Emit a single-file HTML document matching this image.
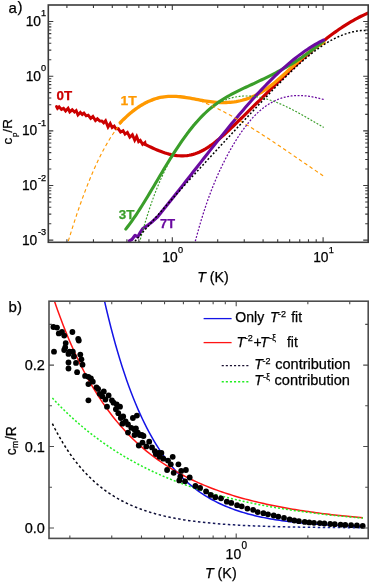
<!DOCTYPE html><html><head><meta charset="utf-8"><style>html,body{margin:0;padding:0;background:#fff;overflow:hidden}svg{display:block;will-change:transform}text{stroke:#000;stroke-width:0.25px}</style></head><body><svg width="371" height="583" viewBox="0 0 371 583">
<rect width="371" height="583" fill="#fff"/>
<defs><clipPath id="ca"><rect x="48.3" y="5" width="319.9" height="237.3"/></clipPath>
<clipPath id="cb"><rect x="49" y="301.2" width="319.2" height="237.2"/></clipPath></defs>
<g clip-path="url(#ca)" fill="none" stroke-linecap="round" stroke-linejoin="round">
<path d="M56.5,106.5 L57.5,108.33 L59.12,106.88 L61.44,109.39 L63.53,108.34 L65.62,110.97 L68.07,108.28 L69.78,111.93 L72.23,109.81 L74.47,112.02 L76.18,110.55 L77.94,114.95 L80.36,112.47 L82.28,114.6 L83.96,113.17 L86.16,115.87 L88.24,115.14 L90.69,118.46 L92.89,116.54 L95.44,120.58 L97.38,118.83 L99.77,121.13 L101.74,121.05 L103.66,122.88 L105.55,120.78 L108.05,127.03 L110.22,123.53 L112.18,127.59 L114.21,126.11 L115.88,128.81 L118.25,128.63 L120.55,131.99 L123.08,130.65 L125.04,134.13 L127.4,132.33 L129.82,137.05 L132.37,134.79 L134.71,140.24 L136.65,136.54 L138.61,141.64 L140.29,140.41 L142.65,144.33 L144.87,142.64 L145.1,144.3" stroke="#cc0000" stroke-width="2.9" stroke-linejoin="miter" stroke-miterlimit="3"/>
<path d="M145.1,144.36 L147.1,145.37 L149.1,146.35 L151.1,147.31 L153.1,148.24 L155.1,149.13 L157.1,149.98 L159.1,150.8 L161.1,151.56 L163.1,152.28 L165.1,152.94 L167.1,153.55 L169.1,154.09 L171.1,154.57 L173.1,154.98 L175.1,155.31 L177.1,155.57 L179.1,155.75 L181.1,155.84 L183.1,155.84 L185.1,155.76 L187.1,155.57 L189.1,155.28 L191.1,154.89 L193.1,154.39 L195.1,153.78 L197.1,153.05 L199.1,152.22 L201.1,151.28 L203.1,150.24 L205.1,149.1 L207.1,147.88 L209.1,146.57 L211.1,145.18 L213.1,143.72 L215.1,142.19 L217.1,140.6 L219.1,138.95 L221.1,137.25 L223.1,135.5 L225.1,133.71 L227.1,131.89 L229.1,130.03 L231.1,128.15 L233.1,126.25 L235.1,124.33 L237.1,122.41 L239.1,120.47 L241.1,118.52 L243.1,116.57 L245.1,114.61 L247.1,112.64 L249.1,110.67 L251.1,108.69 L253.1,106.71 L255.1,104.73 L257.1,102.75 L259.1,100.76 L261.1,98.77 L263.1,96.78 L265.1,94.8 L267.1,92.81 L269.1,90.83 L271.1,88.85 L273.1,86.88 L275.1,84.91 L277.1,82.95 L279.1,80.99 L281.1,79.04 L283.1,77.1 L285.1,75.17 L287.1,73.25 L289.1,71.33 L291.1,69.43 L293.1,67.54 L295.1,65.67 L297.1,63.81 L299.1,61.96 L301.1,60.13 L303.1,58.31 L305.1,56.52 L307.1,54.74 L309.1,52.97 L311.1,51.23 L313.1,49.51 L315.1,47.81 L317.1,46.13 L319.1,44.47 L321.1,42.84 L323.1,41.23 L325.1,39.64 L327.1,38.08 L329.1,36.55 L331.1,35.04 L333.1,33.57 L335.1,32.12 L337.1,30.7 L339.1,29.31 L341.1,27.96 L343.1,26.63 L345.1,25.34 L347.1,24.08 L349.1,22.86 L351.1,21.67 L353.1,20.52 L355.1,19.41 L357.1,18.33 L359.1,17.29 L361.1,16.29 L363.1,15.33 L365.1,14.41 L367.1,13.54 L369,12.74" stroke="#cc0000" stroke-width="3.2"/>
<path d="M120.2,122.72 L122.2,120.68 L124.2,118.71 L126.2,116.83 L128.2,115.02 L130.2,113.31 L132.2,111.67 L134.2,110.11 L136.2,108.64 L138.2,107.25 L140.2,105.95 L142.2,104.72 L144.2,103.58 L146.2,102.53 L148.2,101.55 L150.2,100.66 L152.2,99.86 L154.2,99.13 L156.2,98.49 L158.2,97.94 L160.2,97.47 L162.2,97.08 L164.2,96.77 L166.2,96.55 L168.2,96.4 L170.2,96.31 L172.2,96.29 L174.2,96.34 L176.2,96.43 L178.2,96.58 L180.2,96.76 L182.2,96.99 L184.2,97.26 L186.2,97.55 L188.2,97.87 L190.2,98.21 L192.2,98.57 L194.2,98.94 L196.2,99.31 L198.2,99.68 L200.2,100.05 L202.2,100.41 L204.2,100.76 L206.2,101.08 L208.2,101.39 L210.2,101.67 L212.2,101.91 L214.2,102.12 L216.2,102.29 L218.2,102.42 L220.2,102.51 L222.2,102.55 L224.2,102.55 L226.2,102.51 L228.2,102.41 L230.2,102.27 L232.2,102.07 L234.2,101.83 L236.2,101.52 L238.2,101.16 L240.2,100.74 L242.2,100.26 L244.2,99.71 L246.2,99.1 L248.2,98.43 L250.2,97.69 L252.2,96.88 L254.2,95.99 L256.2,95.03 L258.2,94 L260.2,92.89 L262.2,91.71 L264.2,90.44 L266.2,89.09 L268.2,87.66 L270.2,86.16 L272.2,84.6 L274.2,82.97 L276.2,81.29 L278.2,79.57 L280.2,77.81 L282.2,76.02 L284.2,74.2 L286.2,72.36 L288.2,70.51 L290.2,68.65 L292.2,66.8 L294.2,64.95 L296.2,63.12 L298.2,61.3 L300.2,59.52 L302.2,57.77 L304.2,56.06 L306.2,54.4 L308.2,52.79 L310.2,51.24 L312.2,49.76 L314.2,48.36 L316.2,47.03 L318.2,45.8 L320.2,44.66 L322.2,43.61 L324,42.77" stroke="#ff9900" stroke-width="3.3"/>
<path d="M125.8,229.11 L127.8,226.54 L129.8,223.87 L131.8,221.09 L133.8,218.23 L135.8,215.28 L137.8,212.25 L139.8,209.16 L141.8,206 L143.8,202.79 L145.8,199.53 L147.8,196.23 L149.8,192.9 L151.8,189.55 L153.8,186.18 L155.8,182.8 L157.8,179.42 L159.8,176.04 L161.8,172.68 L163.8,169.33 L165.8,166.02 L167.8,162.74 L169.8,159.5 L171.8,156.31 L173.8,153.17 L175.8,150.08 L177.8,147.05 L179.8,144.09 L181.8,141.18 L183.8,138.35 L185.8,135.58 L187.8,132.89 L189.8,130.28 L191.8,127.74 L193.8,125.29 L195.8,122.93 L197.8,120.66 L199.8,118.48 L201.8,116.39 L203.8,114.4 L205.8,112.5 L207.8,110.68 L209.8,108.95 L211.8,107.29 L213.8,105.71 L215.8,104.2 L217.8,102.75 L219.8,101.36 L221.8,100.04 L223.8,98.77 L225.8,97.54 L227.8,96.37 L229.8,95.24 L231.8,94.14 L233.8,93.08 L235.8,92.05 L237.8,91.05 L239.8,90.07 L241.8,89.11 L243.8,88.17 L245.8,87.24 L247.8,86.31 L249.8,85.39 L251.8,84.47 L253.8,83.54 L255.8,82.61 L257.8,81.67 L259.8,80.72 L261.8,79.77 L263.8,78.81 L265.8,77.84 L267.8,76.85 L269.8,75.86 L271.8,74.85 L273.8,73.82 L275.8,72.79 L277.8,71.73 L279.8,70.66 L281.8,69.57 L283.8,68.46 L285.8,67.33 L287.8,66.17 L289.8,65 L291.8,63.8 L293.8,62.58 L295.8,61.33 L297.8,60.06 L299.8,58.76 L301.8,57.43 L303.8,56.07 L305.8,54.68 L307.8,53.25 L309.8,51.8 L311.8,50.31 L313.8,48.79 L315.8,47.23 L317.8,45.63 L319.8,44 L321.8,42.33 L323.6,40.79" stroke="#3a9e2a" stroke-width="3.1"/>
<path d="M129.3,240.8 L131.9,239.5 L135.1,235.3 L137.7,236.9 L140.3,232.3 L142.9,228.5 L146.8,225.9 L151.3,222.6 L157.3,217 L157.3,217.19 L159.3,214.74 L161.3,212.28 L163.3,209.81 L165.3,207.32 L167.3,204.83 L169.3,202.32 L171.3,199.81 L173.3,197.29 L175.3,194.76 L177.3,192.23 L179.3,189.69 L181.3,187.14 L183.3,184.59 L185.3,182.04 L187.3,179.48 L189.3,176.93 L191.3,174.37 L193.3,171.81 L195.3,169.25 L197.3,166.69 L199.3,164.14 L201.3,161.59 L203.3,159.04 L205.3,156.49 L207.3,153.95 L209.3,151.41 L211.3,148.89 L213.3,146.36 L215.3,143.85 L217.3,141.34 L219.3,138.85 L221.3,136.36 L223.3,133.89 L225.3,131.42 L227.3,128.97 L229.3,126.53 L231.3,124.11 L233.3,121.7 L235.3,119.3 L237.3,116.92 L239.3,114.56 L241.3,112.21 L243.3,109.89 L245.3,107.58 L247.3,105.29 L249.3,103.02 L251.3,100.78 L253.3,98.55 L255.3,96.35 L257.3,94.17 L259.3,92.02 L261.3,89.89 L263.3,87.78 L265.3,85.71 L267.3,83.66 L269.3,81.63 L271.3,79.64 L273.3,77.67 L275.3,75.74 L277.3,73.84 L279.3,71.96 L281.3,70.12 L283.3,68.31 L285.3,66.54 L287.3,64.8 L289.3,63.09 L291.3,61.42 L293.3,59.79 L295.3,58.19 L297.3,56.64 L299.3,55.12 L301.3,53.64 L303.3,52.2 L305.3,50.8 L307.3,49.44 L309.3,48.13 L311.3,46.85 L313.3,45.62 L315.3,44.44 L317.3,43.3 L319.3,42.21 L321.3,41.16 L323.3,40.16 L323.6,40.02" stroke="#6a0aa0" stroke-width="3.1"/>
<path d="M68.3,241.12 L70.3,234.55 L72.3,228.16 L74.3,221.92 L76.3,215.86 L78.3,209.96 L80.3,204.23 L82.3,198.66 L84.3,193.26 L86.3,188.03 L88.3,182.96 L90.3,178.06 L92.3,173.32 L94.3,168.75 L96.3,164.34 L98.3,160.09 L100.3,156.01 L102.3,152.09 L104.3,148.34 L106.3,144.75 L108.3,141.32 L110.3,138.06 L112.3,134.95 L114.3,132.02 L116.3,129.24 L118.3,126.62 L120.3,124.15 L122.3,121.83 L124.3,119.65 L126.3,117.6 L128.3,115.68 L130.3,113.89 L132.3,112.21 L134.3,110.65 L136.3,109.19 L138.3,107.84 L140.3,106.58 L142.3,105.41 L144.3,104.32 L146.3,103.32 L148.3,102.39 L150.3,101.53 L152.3,100.74 L154.3,100.02 L156.3,99.37 L158.3,98.78 L160.3,98.26 L162.3,97.8 L164.3,97.41 L166.3,97.09 L168.3,96.83 L170.3,96.63 L172.3,96.5 L174.3,96.44 L176.3,96.43 L178.3,96.49 L180.3,96.61 L182.3,96.79 L184.3,97.03 L186.3,97.33 L188.3,97.69 L190.3,98.11 L192.3,98.59 L194.3,99.13 L196.3,99.71 L198.3,100.35 L200.3,101.04 L202.3,101.77 L204.3,102.55 L206.3,103.36 L208.3,104.22 L210.3,105.1 L212.3,106.02 L214.3,106.97 L216.3,107.95 L218.3,108.95 L220.3,109.97 L222.3,111.01 L224.3,112.07 L226.3,113.14 L228.3,114.23 L230.3,115.33 L232.3,116.45 L234.3,117.58 L236.3,118.72 L238.3,119.88 L240.3,121.05 L242.3,122.23 L244.3,123.42 L246.3,124.63 L248.3,125.85 L250.3,127.08 L252.3,128.32 L254.3,129.57 L256.3,130.83 L258.3,132.1 L260.3,133.38 L262.3,134.67 L264.3,135.97 L266.3,137.27 L268.3,138.58 L270.3,139.9 L272.3,141.23 L274.3,142.56 L276.3,143.89 L278.3,145.23 L280.3,146.58 L282.3,147.93 L284.3,149.28 L286.3,150.64 L288.3,152 L290.3,153.36 L292.3,154.73 L294.3,156.1 L296.3,157.46 L298.3,158.83 L300.3,160.2 L302.3,161.57 L304.3,162.94 L306.3,164.31 L308.3,165.67 L310.3,167.04 L312.3,168.4 L314.3,169.76 L316.3,171.11 L318.3,172.47 L320.3,173.81 L322.3,175.16 L323.1,175.7" stroke="#ff9900" stroke-width="1.15" stroke-dasharray="3.6 2.8" stroke-linecap="butt"/>
<path d="M139.4,242.86 L141.4,235.54 L143.4,228.49 L145.4,221.73 L147.4,215.24 L149.4,209.04 L151.4,203.14 L153.4,197.54 L155.4,192.23 L157.4,187.2 L159.4,182.43 L161.4,177.88 L163.4,173.55 L165.4,169.39 L167.4,165.4 L169.4,161.54 L171.4,157.81 L173.4,154.2 L175.4,150.73 L177.4,147.37 L179.4,144.13 L181.4,141.02 L183.4,138.03 L185.4,135.15 L187.4,132.38 L189.4,129.74 L191.4,127.2 L193.4,124.78 L195.4,122.46 L197.4,120.26 L199.4,118.16 L201.4,116.17 L203.4,114.28 L205.4,112.49 L207.4,110.81 L209.4,109.22 L211.4,107.74 L213.4,106.35 L215.4,105.05 L217.4,103.85 L219.4,102.74 L221.4,101.72 L223.4,100.79 L225.4,99.95 L227.4,99.2 L229.4,98.52 L231.4,97.93 L233.4,97.42 L235.4,96.99 L237.4,96.64 L239.4,96.36 L241.4,96.15 L243.4,96.01 L245.4,95.95 L247.4,95.95 L249.4,96.01 L251.4,96.14 L253.4,96.33 L255.4,96.58 L257.4,96.88 L259.4,97.25 L261.4,97.66 L263.4,98.13 L265.4,98.65 L267.4,99.22 L269.4,99.84 L271.4,100.5 L273.4,101.2 L275.4,101.94 L277.4,102.73 L279.4,103.55 L281.4,104.4 L283.4,105.29 L285.4,106.21 L287.4,107.16 L289.4,108.14 L291.4,109.15 L293.4,110.18 L295.4,111.23 L297.4,112.3 L299.4,113.39 L301.4,114.5 L303.4,115.63 L305.4,116.76 L307.4,117.91 L309.4,119.07 L311.4,120.23 L313.4,121.4 L315.4,122.58 L317.4,123.75 L319.4,124.93 L321.4,126.1 L323.4,127.27 L323.7,127.45" stroke="#3a9e2a" stroke-width="1.15" stroke-dasharray="1.9 1.6" stroke-linecap="butt"/>
<path d="M195.3,241.27 L197.3,233.8 L199.3,226.69 L201.3,219.92 L203.3,213.47 L205.3,207.32 L207.3,201.46 L209.3,195.88 L211.3,190.56 L213.3,185.48 L215.3,180.62 L217.3,175.98 L219.3,171.54 L221.3,167.27 L223.3,163.18 L225.3,159.23 L227.3,155.41 L229.3,151.72 L231.3,148.16 L233.3,144.72 L235.3,141.41 L237.3,138.22 L239.3,135.16 L241.3,132.22 L243.3,129.4 L245.3,126.71 L247.3,124.14 L249.3,121.69 L251.3,119.37 L253.3,117.16 L255.3,115.08 L257.3,113.12 L259.3,111.28 L261.3,109.56 L263.3,107.95 L265.3,106.45 L267.3,105.07 L269.3,103.79 L271.3,102.61 L273.3,101.54 L275.3,100.56 L277.3,99.68 L279.3,98.89 L281.3,98.19 L283.3,97.58 L285.3,97.06 L287.3,96.61 L289.3,96.25 L291.3,95.96 L293.3,95.74 L295.3,95.6 L297.3,95.52 L299.3,95.51 L301.3,95.56 L303.3,95.67 L305.3,95.83 L307.3,96.05 L309.3,96.32 L311.3,96.65 L313.3,97.01 L315.3,97.42 L317.3,97.87 L319.3,98.36 L321.3,98.88 L323.3,99.43 L323.7,99.55" stroke="#6a0aa0" stroke-width="1.25" stroke-dasharray="1.9 1.6" stroke-linecap="butt"/>
<path d="M135,241.26 L137,238.96 L139,236.65 L141,234.35 L143,232.05 L145,229.76 L147,227.47 L149,225.19 L151,222.91 L153,220.63 L155,218.36 L157,216.09 L159,213.83 L161,211.57 L163,209.31 L165,207.06 L167,204.81 L169,202.56 L171,200.32 L173,198.08 L175,195.84 L177,193.61 L179,191.38 L181,189.15 L183,186.93 L185,184.71 L187,182.5 L189,180.28 L191,178.08 L193,175.87 L195,173.67 L197,171.47 L199,169.27 L201,167.08 L203,164.89 L205,162.7 L207,160.51 L209,158.33 L211,156.15 L213,153.98 L215,151.8 L217,149.63 L219,147.46 L221,145.3 L223,143.13 L225,140.97 L227,138.82 L229,136.66 L231,134.51 L233,132.36 L235,130.21 L237,128.06 L239,125.92 L241,123.78 L243,121.64 L245,119.5 L247,117.37 L249,115.24 L251,113.11 L253,110.98 L255,108.85 L257,106.73 L259,104.6 L261,102.48 L263,100.37 L265,98.25 L267,96.14 L269,94.03 L271,91.93 L273,89.84 L275,87.76 L277,85.69 L279,83.64 L281,81.6 L283,79.58 L285,77.58 L287,75.6 L289,73.64 L291,71.7 L293,69.79 L295,67.9 L297,66.05 L299,64.22 L301,62.43 L303,60.67 L305,58.94 L307,57.25 L309,55.6 L311,53.99 L313,52.42 L315,50.89 L317,49.41 L319,47.97 L321,46.58 L323,45.25 L325,43.96 L327,42.72 L329,41.54 L331,40.42 L333,39.34 L335,38.33 L337,37.37 L339,36.47 L341,35.63 L343,34.84 L345,34.12 L347,33.46 L349,32.86 L351,32.32 L353,31.85 L355,31.45 L357,31.1 L359,30.83 L361,30.62 L363,30.48 L365,30.41 L367,30.41 L369,30.48" stroke="#000" stroke-width="1.5" stroke-dasharray="1.9 2" stroke-linecap="butt"/>
</g>
<path d="M66.9,242.3 v-3 M66.9,5 v3 M93.45,242.3 v-3 M93.45,5 v3 M112.29,242.3 v-3 M112.29,5 v3 M126.9,242.3 v-3 M126.9,5 v3 M138.85,242.3 v-3 M138.85,5 v3 M148.94,242.3 v-3 M148.94,5 v3 M157.69,242.3 v-3 M157.69,5 v3 M165.4,242.3 v-3 M165.4,5 v3 M172.3,242.3 v-5 M172.3,5 v5 M217.7,242.3 v-3 M217.7,5 v3 M244.25,242.3 v-3 M244.25,5 v3 M263.09,242.3 v-3 M263.09,5 v3 M277.7,242.3 v-3 M277.7,5 v3 M289.65,242.3 v-3 M289.65,5 v3 M299.74,242.3 v-3 M299.74,5 v3 M308.49,242.3 v-3 M308.49,5 v3 M316.2,242.3 v-3 M316.2,5 v3 M323.1,242.3 v-5 M323.1,5 v5 M48.3,240.15 h5 M368.2,240.15 h-5 M48.3,223.7 h3 M368.2,223.7 h-3 M48.3,214.08 h3 M368.2,214.08 h-3 M48.3,207.25 h3 M368.2,207.25 h-3 M48.3,201.95 h3 M368.2,201.95 h-3 M48.3,197.62 h3 M368.2,197.62 h-3 M48.3,193.97 h3 M368.2,193.97 h-3 M48.3,190.8 h3 M368.2,190.8 h-3 M48.3,188 h3 M368.2,188 h-3 M48.3,185.5 h5 M368.2,185.5 h-5 M48.3,169.05 h3 M368.2,169.05 h-3 M48.3,159.43 h3 M368.2,159.43 h-3 M48.3,152.6 h3 M368.2,152.6 h-3 M48.3,147.3 h3 M368.2,147.3 h-3 M48.3,142.97 h3 M368.2,142.97 h-3 M48.3,139.32 h3 M368.2,139.32 h-3 M48.3,136.15 h3 M368.2,136.15 h-3 M48.3,133.35 h3 M368.2,133.35 h-3 M48.3,130.85 h5 M368.2,130.85 h-5 M48.3,114.4 h3 M368.2,114.4 h-3 M48.3,104.78 h3 M368.2,104.78 h-3 M48.3,97.95 h3 M368.2,97.95 h-3 M48.3,92.65 h3 M368.2,92.65 h-3 M48.3,88.32 h3 M368.2,88.32 h-3 M48.3,84.67 h3 M368.2,84.67 h-3 M48.3,81.5 h3 M368.2,81.5 h-3 M48.3,78.7 h3 M368.2,78.7 h-3 M48.3,76.2 h5 M368.2,76.2 h-5 M48.3,59.75 h3 M368.2,59.75 h-3 M48.3,50.13 h3 M368.2,50.13 h-3 M48.3,43.3 h3 M368.2,43.3 h-3 M48.3,38 h3 M368.2,38 h-3 M48.3,33.67 h3 M368.2,33.67 h-3 M48.3,30.02 h3 M368.2,30.02 h-3 M48.3,26.85 h3 M368.2,26.85 h-3 M48.3,24.05 h3 M368.2,24.05 h-3 M48.3,21.55 h5 M368.2,21.55 h-5" stroke="#3a3a3a" stroke-width="1.1" fill="none"/>
<rect x="48.3" y="5" width="319.9" height="237.3" fill="none" stroke="#3a3a3a" stroke-width="1.6"/>
<linearGradient id="navy" gradientUnits="userSpaceOnUse" x1="50" y1="0" x2="365" y2="0"><stop offset="0" stop-color="#000"/><stop offset="0.45" stop-color="#12124a"/><stop offset="1" stop-color="#2233b0"/></linearGradient>
<g clip-path="url(#cb)" fill="none">
<path d="M92.91,243.9 L95.16,256.01 L97.41,267.6 L99.66,278.7 L101.91,289.32 L104.16,299.49 L106.41,309.23 L108.66,318.55 L110.92,327.48 L113.17,336.02 L115.42,344.21 L117.67,352.04 L119.92,359.54 L122.17,366.72 L124.42,373.59 L126.67,380.17 L128.92,386.47 L131.17,392.5 L133.42,398.28 L135.67,403.8 L137.92,409.1 L140.17,414.16 L142.43,419.01 L144.68,423.66 L146.93,428.11 L149.18,432.36 L151.43,436.44 L153.68,440.34 L155.93,444.08 L158.18,447.65 L160.43,451.08 L162.68,454.35 L164.93,457.49 L167.18,460.5 L169.43,463.37 L171.68,466.13 L173.94,468.76 L176.19,471.29 L178.44,473.71 L180.69,476.02 L182.94,478.23 L185.19,480.36 L187.44,482.39 L189.69,484.33 L191.94,486.19 L194.19,487.97 L196.44,489.68 L198.69,491.31 L200.94,492.88 L203.19,494.37 L205.45,495.8 L207.7,497.18 L209.95,498.49 L212.2,499.75 L214.45,500.95 L216.7,502.1 L218.95,503.21 L221.2,504.26 L223.45,505.28 L225.7,506.24 L227.95,507.17 L230.2,508.06 L232.45,508.91 L234.7,509.72 L236.96,510.5 L239.21,511.25 L241.46,511.96 L243.71,512.64 L245.96,513.3 L248.21,513.93 L250.46,514.53 L252.71,515.1 L254.96,515.65 L257.21,516.18 L259.46,516.68 L261.71,517.16 L263.96,517.62 L266.21,518.07 L268.47,518.49 L270.72,518.89 L272.97,519.28 L275.22,519.65 L277.47,520.01 L279.72,520.35 L281.97,520.68 L284.22,520.99 L286.47,521.29 L288.72,521.57 L290.97,521.85 L293.22,522.11 L295.47,522.36 L297.72,522.6 L299.98,522.83 L302.23,523.05 L304.48,523.26 L306.73,523.46 L308.98,523.66 L311.23,523.84 L313.48,524.02 L315.73,524.19 L317.98,524.35 L320.23,524.51 L322.48,524.66 L324.73,524.8 L326.98,524.93 L329.23,525.07 L331.49,525.19 L333.74,525.31 L335.99,525.42 L338.24,525.53 L340.49,525.64 L342.74,525.74 L344.99,525.84 L347.24,525.93 L349.49,526.02 L351.74,526.1 L353.99,526.18 L356.24,526.26 L358.49,526.33 L360.74,526.41 L363,526.47" stroke="#1414e6" stroke-width="1.5"/>
<path d="M49.96,287.42 L52.57,295.49 L55.18,303.25 L57.79,310.7 L60.4,317.86 L63,324.75 L65.61,331.37 L68.22,337.74 L70.83,343.87 L73.44,349.77 L76.05,355.44 L78.66,360.91 L81.26,366.17 L83.87,371.23 L86.48,376.11 L89.09,380.81 L91.7,385.33 L94.31,389.7 L96.92,393.9 L99.52,397.96 L102.13,401.87 L104.74,405.64 L107.35,409.28 L109.96,412.79 L112.57,416.18 L115.18,419.45 L117.79,422.61 L120.39,425.66 L123,428.61 L125.61,431.46 L128.22,434.21 L130.83,436.87 L133.44,439.44 L136.05,441.92 L138.65,444.33 L141.26,446.65 L143.87,448.9 L146.48,451.08 L149.09,453.18 L151.7,455.22 L154.31,457.19 L156.91,459.11 L159.52,460.96 L162.13,462.75 L164.74,464.49 L167.35,466.17 L169.96,467.81 L172.57,469.39 L175.17,470.92 L177.78,472.41 L180.39,473.86 L183,475.26 L185.61,476.62 L188.22,477.93 L190.83,479.21 L193.44,480.46 L196.04,481.66 L198.65,482.83 L201.26,483.97 L203.87,485.08 L206.48,486.15 L209.09,487.2 L211.7,488.21 L214.3,489.2 L216.91,490.15 L219.52,491.09 L222.13,491.99 L224.74,492.87 L227.35,493.73 L229.96,494.56 L232.56,495.37 L235.17,496.16 L237.78,496.93 L240.39,497.68 L243,498.41 L245.61,499.11 L248.22,499.8 L250.82,500.47 L253.43,501.13 L256.04,501.77 L258.65,502.39 L261.26,502.99 L263.87,503.58 L266.48,504.15 L269.09,504.71 L271.69,505.26 L274.3,505.79 L276.91,506.31 L279.52,506.81 L282.13,507.3 L284.74,507.78 L287.35,508.25 L289.95,508.7 L292.56,509.15 L295.17,509.58 L297.78,510.01 L300.39,510.42 L303,510.82 L305.61,511.21 L308.21,511.6 L310.82,511.97 L313.43,512.34 L316.04,512.69 L318.65,513.04 L321.26,513.38 L323.87,513.71 L326.47,514.03 L329.08,514.35 L331.69,514.66 L334.3,514.96 L336.91,515.25 L339.52,515.54 L342.13,515.82 L344.74,516.09 L347.34,516.36 L349.95,516.62 L352.56,516.87 L355.17,517.12 L357.78,517.37 L360.39,517.6 L363,517.84" stroke="#ff1414" stroke-width="1.5"/>
<path d="M52.38,398.09 L54.96,400.85 L57.55,403.55 L60.14,406.19 L62.73,408.78 L65.32,411.31 L67.91,413.79 L70.5,416.21 L73.08,418.59 L75.67,420.91 L78.26,423.18 L80.85,425.41 L83.44,427.59 L86.03,429.72 L88.61,431.81 L91.2,433.85 L93.79,435.85 L96.38,437.8 L98.97,439.72 L101.56,441.59 L104.15,443.43 L106.73,445.22 L109.32,446.98 L111.91,448.7 L114.5,450.39 L117.09,452.03 L119.68,453.65 L122.27,455.23 L124.85,456.77 L127.44,458.28 L130.03,459.76 L132.62,461.21 L135.21,462.63 L137.8,464.02 L140.38,465.38 L142.97,466.71 L145.56,468.01 L148.15,469.28 L150.74,470.53 L153.33,471.75 L155.92,472.94 L158.5,474.11 L161.09,475.26 L163.68,476.38 L166.27,477.47 L168.86,478.55 L171.45,479.6 L174.04,480.62 L176.62,481.63 L179.21,482.61 L181.8,483.58 L184.39,484.52 L186.98,485.44 L189.57,486.35 L192.15,487.23 L194.74,488.1 L197.33,488.94 L199.92,489.77 L202.51,490.59 L205.1,491.38 L207.69,492.16 L210.27,492.92 L212.86,493.66 L215.45,494.39 L218.04,495.11 L220.63,495.8 L223.22,496.49 L225.81,497.16 L228.39,497.81 L230.98,498.45 L233.57,499.08 L236.16,499.69 L238.75,500.3 L241.34,500.88 L243.92,501.46 L246.51,502.02 L249.1,502.57 L251.69,503.11 L254.28,503.64 L256.87,504.16 L259.46,504.67 L262.04,505.16 L264.63,505.65 L267.22,506.12 L269.81,506.59 L272.4,507.04 L274.99,507.49 L277.58,507.92 L280.16,508.35 L282.75,508.76 L285.34,509.17 L287.93,509.57 L290.52,509.96 L293.11,510.35 L295.69,510.72 L298.28,511.09 L300.87,511.45 L303.46,511.8 L306.05,512.14 L308.64,512.48 L311.23,512.81 L313.81,513.13 L316.4,513.45 L318.99,513.76 L321.58,514.06 L324.17,514.36 L326.76,514.65 L329.35,514.93 L331.93,515.21 L334.52,515.48 L337.11,515.74 L339.7,516 L342.29,516.26 L344.88,516.51 L347.46,516.75 L350.05,516.99 L352.64,517.22 L355.23,517.45 L357.82,517.68 L360.41,517.9 L363,518.11" stroke="#22ee22" stroke-width="1.5" stroke-dasharray="2 2"/>
<path d="M52.38,423.64 L54.96,428.74 L57.55,433.59 L60.14,438.2 L62.73,442.59 L65.32,446.76 L67.91,450.73 L70.5,454.51 L73.08,458.1 L75.67,461.51 L78.26,464.76 L80.85,467.85 L83.44,470.79 L86.03,473.58 L88.61,476.24 L91.2,478.77 L93.79,481.17 L96.38,483.46 L98.97,485.64 L101.56,487.71 L104.15,489.68 L106.73,491.55 L109.32,493.33 L111.91,495.02 L114.5,496.63 L117.09,498.17 L119.68,499.62 L122.27,501.01 L124.85,502.33 L127.44,503.58 L130.03,504.77 L132.62,505.91 L135.21,506.99 L137.8,508.02 L140.38,508.99 L142.97,509.92 L145.56,510.8 L148.15,511.64 L150.74,512.44 L153.33,513.2 L155.92,513.93 L158.5,514.61 L161.09,515.27 L163.68,515.89 L166.27,516.48 L168.86,517.04 L171.45,517.58 L174.04,518.09 L176.62,518.57 L179.21,519.03 L181.8,519.47 L184.39,519.89 L186.98,520.28 L189.57,520.66 L192.15,521.02 L194.74,521.36 L197.33,521.68 L199.92,521.99 L202.51,522.29 L205.1,522.57 L207.69,522.83 L210.27,523.08 L212.86,523.32 L215.45,523.55 L218.04,523.77 L220.63,523.98 L223.22,524.17 L225.81,524.36 L228.39,524.54 L230.98,524.71 L233.57,524.87 L236.16,525.02 L238.75,525.17 L241.34,525.3 L243.92,525.44 L246.51,525.56 L249.1,525.68 L251.69,525.79 L254.28,525.9 L256.87,526 L259.46,526.1 L262.04,526.19 L264.63,526.28 L267.22,526.37 L269.81,526.45 L272.4,526.52 L274.99,526.59 L277.58,526.66 L280.16,526.73 L282.75,526.79 L285.34,526.85 L287.93,526.91 L290.52,526.96 L293.11,527.01 L295.69,527.06 L298.28,527.1 L300.87,527.15 L303.46,527.19 L306.05,527.23 L308.64,527.27 L311.23,527.3 L313.81,527.34 L316.4,527.37 L318.99,527.4 L321.58,527.43 L324.17,527.46 L326.76,527.48 L329.35,527.51 L331.93,527.53 L334.52,527.56 L337.11,527.58 L339.7,527.6 L342.29,527.62 L344.88,527.64 L347.46,527.65 L350.05,527.67 L352.64,527.69 L355.23,527.7 L357.82,527.72 L360.41,527.73 L363,527.74" stroke="url(#navy)" stroke-width="1.5" stroke-dasharray="2.5 2.5"/>
</g>
<g fill="#000"><circle cx="53.4" cy="327" r="2.9"/><circle cx="57" cy="327.6" r="2.9"/><circle cx="58.8" cy="333.4" r="2.9"/><circle cx="62" cy="332" r="2.9"/><circle cx="64.2" cy="335.6" r="2.9"/><circle cx="72.4" cy="332" r="2.9"/><circle cx="78.2" cy="338.8" r="2.9"/><circle cx="78.8" cy="340.5" r="2.9"/><circle cx="54" cy="351.7" r="2.9"/><circle cx="65.7" cy="343.1" r="2.9"/><circle cx="65.2" cy="347.4" r="2.9"/><circle cx="64.2" cy="350" r="2.9"/><circle cx="69.6" cy="351.7" r="2.9"/><circle cx="72.8" cy="351.7" r="2.9"/><circle cx="68.5" cy="353.9" r="2.9"/><circle cx="80.3" cy="354.6" r="2.9"/><circle cx="73.9" cy="356.5" r="2.9"/><circle cx="81.4" cy="359.3" r="2.9"/><circle cx="68.5" cy="362.5" r="2.9"/><circle cx="76" cy="362.9" r="2.9"/><circle cx="82.5" cy="364.7" r="2.9"/><circle cx="68.5" cy="368.5" r="2.9"/><circle cx="77.1" cy="372.2" r="2.9"/><circle cx="85.1" cy="375.9" r="2.9"/><circle cx="88.4" cy="376.8" r="2.9"/><circle cx="90.9" cy="378.4" r="2.9"/><circle cx="88.4" cy="384.1" r="2.9"/><circle cx="92.8" cy="381.7" r="2.9"/><circle cx="96.5" cy="387.3" r="2.9"/><circle cx="98.1" cy="388.9" r="2.9"/><circle cx="103.8" cy="391.4" r="2.9"/><circle cx="99.7" cy="393.8" r="2.9"/><circle cx="102.2" cy="396.2" r="2.9"/><circle cx="108.6" cy="395.4" r="2.9"/><circle cx="105.4" cy="399.5" r="2.9"/><circle cx="88.4" cy="400.3" r="2.9"/><circle cx="111.9" cy="400.3" r="2.9"/><circle cx="113.5" cy="402.7" r="2.9"/><circle cx="116.7" cy="404.3" r="2.9"/><circle cx="120" cy="406.7" r="2.9"/><circle cx="107" cy="406.7" r="2.9"/><circle cx="115.9" cy="409.2" r="2.9"/><circle cx="118.3" cy="413.2" r="2.9"/><circle cx="123.2" cy="416.4" r="2.9"/><circle cx="132.9" cy="418" r="2.9"/><circle cx="136.9" cy="415.6" r="2.9"/><circle cx="120.8" cy="418" r="2.9"/><circle cx="125.6" cy="421.3" r="2.9"/><circle cx="122.4" cy="423.7" r="2.9"/><circle cx="128" cy="424.5" r="2.9"/><circle cx="131.3" cy="427.8" r="2.9"/><circle cx="134.5" cy="429.4" r="2.9"/><circle cx="128" cy="432.6" r="2.9"/><circle cx="137.8" cy="432.6" r="2.9"/><circle cx="141.8" cy="435" r="2.9"/><circle cx="134.5" cy="435" r="2.9"/><circle cx="135.9" cy="428.5" r="2.9"/><circle cx="136.9" cy="433.2" r="2.9"/><circle cx="139.7" cy="435.1" r="2.9"/><circle cx="143.5" cy="436" r="2.9"/><circle cx="138.8" cy="445.5" r="2.9"/><circle cx="142.5" cy="442.6" r="2.9"/><circle cx="146.3" cy="446.4" r="2.9"/><circle cx="149.2" cy="441.7" r="2.9"/><circle cx="152" cy="447.4" r="2.9"/><circle cx="154.8" cy="451.1" r="2.9"/><circle cx="155.8" cy="454" r="2.9"/><circle cx="158.6" cy="453" r="2.9"/><circle cx="161.4" cy="453" r="2.9"/><circle cx="159.5" cy="456.8" r="2.9"/><circle cx="163.3" cy="458.7" r="2.9"/><circle cx="168" cy="460.6" r="2.9"/><circle cx="172.7" cy="456.8" r="2.9"/><circle cx="170.8" cy="464.3" r="2.9"/><circle cx="178.4" cy="464.3" r="2.9"/><circle cx="167.1" cy="470" r="2.9"/><circle cx="173.7" cy="472.8" r="2.9"/><circle cx="181.2" cy="470.9" r="2.9"/><circle cx="185.9" cy="470" r="2.9"/><circle cx="180.3" cy="476.6" r="2.9"/><circle cx="189.7" cy="477.5" r="2.9"/><circle cx="179.3" cy="480.4" r="2.9"/><circle cx="185" cy="481.3" r="2.9"/><circle cx="195.4" cy="486" r="2.9"/><circle cx="200.1" cy="487.9" r="2.9"/><circle cx="206.1" cy="491.4" r="2.9"/><circle cx="210.7" cy="494.9" r="2.9"/><circle cx="215.3" cy="497.2" r="2.9"/><circle cx="221" cy="498.3" r="2.9"/><circle cx="226.8" cy="501.7" r="2.9"/><circle cx="231.3" cy="502.9" r="2.9"/><circle cx="237.1" cy="505.2" r="2.9"/><circle cx="241.7" cy="506.3" r="2.9"/><circle cx="247.4" cy="508.6" r="2.9"/><circle cx="253.1" cy="509.8" r="2.9"/><circle cx="257.7" cy="512.1" r="2.9"/><circle cx="263.4" cy="513.2" r="2.9"/><circle cx="268" cy="514.3" r="2.9"/><circle cx="273.7" cy="515.5" r="2.9"/><circle cx="278.3" cy="516.6" r="2.9"/><circle cx="284" cy="517.8" r="2.9"/><circle cx="289.6" cy="519.4" r="2.9"/><circle cx="294.3" cy="520.5" r="2.9"/><circle cx="298.9" cy="521.2" r="2.9"/><circle cx="304.7" cy="521.9" r="2.9"/><circle cx="309.3" cy="522.4" r="2.9"/><circle cx="314" cy="522.8" r="2.9"/><circle cx="319.8" cy="523.1" r="2.9"/><circle cx="324.4" cy="523.5" r="2.9"/><circle cx="330.2" cy="524" r="2.9"/><circle cx="334.8" cy="524.2" r="2.9"/><circle cx="340.6" cy="524.7" r="2.9"/><circle cx="345.3" cy="524.9" r="2.9"/><circle cx="351.1" cy="525.2" r="2.9"/><circle cx="356.9" cy="525.4" r="2.9"/><circle cx="362.7" cy="525.9" r="2.9"/></g>
<path d="M69.85,538.4 v-3 M69.85,301.2 v3 M111.75,538.4 v-3 M111.75,301.2 v3 M141.49,538.4 v-3 M141.49,301.2 v3 M164.55,538.4 v-3 M164.55,301.2 v3 M183.4,538.4 v-3 M183.4,301.2 v3 M199.33,538.4 v-3 M199.33,301.2 v3 M213.14,538.4 v-3 M213.14,301.2 v3 M225.31,538.4 v-3 M225.31,301.2 v3 M236.2,538.4 v-5 M236.2,301.2 v5 M307.85,538.4 v-3 M307.85,301.2 v3 M349.75,538.4 v-3 M349.75,301.2 v3 M49,528 h5 M368.2,528 h-5 M49,487.27 h3 M368.2,487.27 h-3 M49,446.55 h5 M368.2,446.55 h-5 M49,405.82 h3 M368.2,405.82 h-3 M49,365.1 h5 M368.2,365.1 h-5 M49,324.38 h3 M368.2,324.38 h-3" stroke="#4d4d4d" stroke-width="1.1" fill="none"/>
<rect x="49" y="301.2" width="319.2" height="237.2" fill="none" stroke="#4d4d4d" stroke-width="1.6"/>
<path d="M203.6,318.6 H231.6" stroke="#1414e6" stroke-width="1.3"/>
<path d="M203.6,342.6 H231.6" stroke="#ff1414" stroke-width="1.3"/>
<path d="M221.7,365.7 H248.5" stroke="#1a1030" stroke-width="1.3" stroke-dasharray="2.1 2"/>
<path d="M221.7,381.7 H248.5" stroke="#22ee22" stroke-width="1.4" stroke-dasharray="2.1 2"/>
<text x="8.4" y="12.6" font-size="15" text-anchor="start" font-family="Liberation Sans, sans-serif" >a</text>
<text x="17.4" y="12.4" font-size="15" text-anchor="start" font-family="Liberation Sans, sans-serif" >)</text>
<text x="8.6" y="312.3" font-size="15" text-anchor="start" font-family="Liberation Sans, sans-serif" >b)</text>
<text x="41" y="26.05" font-size="13.8" text-anchor="end" font-family="Liberation Sans, sans-serif" >10</text>
<text x="40.9" y="16.25" font-size="9.2" text-anchor="start" font-family="Liberation Sans, sans-serif" >1</text>
<text x="41" y="80.7" font-size="13.8" text-anchor="end" font-family="Liberation Sans, sans-serif" >10</text>
<text x="40.9" y="70.9" font-size="9.2" text-anchor="start" font-family="Liberation Sans, sans-serif" >0</text>
<text x="37.3" y="135.45" font-size="13.8" text-anchor="end" font-family="Liberation Sans, sans-serif" >10</text>
<text x="37.9" y="125.85" font-size="9.2" text-anchor="start" font-family="Liberation Sans, sans-serif" >-1</text>
<text x="37.3" y="190.1" font-size="13.8" text-anchor="end" font-family="Liberation Sans, sans-serif" >10</text>
<text x="37.9" y="180.5" font-size="9.2" text-anchor="start" font-family="Liberation Sans, sans-serif" >-2</text>
<text x="37.3" y="244.75" font-size="13.8" text-anchor="end" font-family="Liberation Sans, sans-serif" >10</text>
<text x="37.9" y="235.15" font-size="9.2" text-anchor="start" font-family="Liberation Sans, sans-serif" >-3</text>
<text x="177.7" y="262" font-size="13.8" text-anchor="end" font-family="Liberation Sans, sans-serif" >10</text>
<text x="177.9" y="252.9" font-size="9.2" text-anchor="start" font-family="Liberation Sans, sans-serif" >0</text>
<text x="328.5" y="262" font-size="13.8" text-anchor="end" font-family="Liberation Sans, sans-serif" >10</text>
<text x="328.7" y="252.9" font-size="9.2" text-anchor="start" font-family="Liberation Sans, sans-serif" >1</text>
<text x="212.9" y="281.9" font-size="14.2" text-anchor="middle" font-family="Liberation Sans, sans-serif"><tspan font-style="italic">T</tspan> (K)</text>
<g transform="translate(11.6,144.6) rotate(-90)" font-family="Liberation Sans, sans-serif"><text x="0" y="0" font-size="13.5">c</text><text x="7.6" y="5.05" font-size="8">p</text><text x="11.9" y="0" font-size="13.5">/</text><text x="15.8" y="0" font-size="13.5">R</text></g>
<text x="56.6" y="100" font-size="12.5" font-weight="bold" fill="#cc0000" style="stroke:#cc0000" textLength="15.6" lengthAdjust="spacingAndGlyphs" font-family="Liberation Sans, sans-serif">0T</text>
<text x="120.6" y="105.4" font-size="12.5" font-weight="bold" fill="#ff9900" style="stroke:#ff9900" textLength="16.2" lengthAdjust="spacingAndGlyphs" font-family="Liberation Sans, sans-serif">1T</text>
<text x="118.8" y="218.5" font-size="12.5" font-weight="bold" fill="#3a9e2a" style="stroke:#3a9e2a" textLength="15.6" lengthAdjust="spacingAndGlyphs" font-family="Liberation Sans, sans-serif">3T</text>
<text x="160" y="228" font-size="12.5" font-weight="bold" fill="#6a0aa0" style="stroke:#6a0aa0" textLength="15.0" lengthAdjust="spacingAndGlyphs" font-family="Liberation Sans, sans-serif">7T</text>
<text x="44.9" y="533.2" font-size="14.5" text-anchor="end" font-family="Liberation Sans, sans-serif" >0.0</text>
<text x="44.9" y="451.75" font-size="14.5" text-anchor="end" font-family="Liberation Sans, sans-serif" >0.1</text>
<text x="44.9" y="370.3" font-size="14.5" text-anchor="end" font-family="Liberation Sans, sans-serif" >0.2</text>
<text x="241.2" y="559" font-size="14" text-anchor="end" font-family="Liberation Sans, sans-serif" >10</text>
<text x="241.4" y="549.4" font-size="10" text-anchor="start" font-family="Liberation Sans, sans-serif" >0</text>
<text x="220.8" y="578.0" font-size="14.3" text-anchor="middle" font-family="Liberation Sans, sans-serif"><tspan font-style="italic">T</tspan> (K)</text>
<g transform="translate(15.5,455.2) rotate(-90)" font-family="Liberation Sans, sans-serif"><text x="0" y="0" font-size="13.8">c</text><text x="7.3" y="2.8" font-size="8.5">m</text><text x="15.2" y="0" font-size="13.8">/</text><text x="18.9" y="0" font-size="13.8">R</text></g>
<text x="235.3" y="322.2" font-size="14" font-family="Liberation Sans, sans-serif" textLength="28.9" lengthAdjust="spacingAndGlyphs">Only</text>
<text x="269.9" y="322.2" font-size="14" font-family="Liberation Sans, sans-serif" font-style="italic">T</text>
<text x="278.1" y="317" font-size="9" font-family="Liberation Sans, sans-serif" >-2</text>
<text x="291.2" y="322.2" font-size="14" font-family="Liberation Sans, sans-serif" textLength="10.8" lengthAdjust="spacingAndGlyphs">fit</text>
<text x="236.4" y="346.5" font-size="14" font-family="Liberation Sans, sans-serif" font-style="italic">T</text>
<text x="244.7" y="341.2" font-size="9" font-family="Liberation Sans, sans-serif" >-2</text>
<text x="253.5" y="346.5" font-size="14" font-family="Liberation Sans, sans-serif" >+</text>
<text x="259.9" y="346.5" font-size="14" font-family="Liberation Sans, sans-serif" font-style="italic">T</text>
<text x="269" y="341.2" font-size="9" font-family="Liberation Sans, sans-serif" >-ξ</text>
<text x="287" y="346.5" font-size="14" font-family="Liberation Sans, sans-serif" textLength="10.8" lengthAdjust="spacingAndGlyphs">fit</text>
<text x="254.2" y="369.2" font-size="14" font-family="Liberation Sans, sans-serif" font-style="italic">T</text>
<text x="262.4" y="364" font-size="9" font-family="Liberation Sans, sans-serif" >-2</text>
<text x="275.2" y="369.2" font-size="14" font-family="Liberation Sans, sans-serif" textLength="75.2" lengthAdjust="spacingAndGlyphs">contribution</text>
<text x="254.2" y="385.2" font-size="14" font-family="Liberation Sans, sans-serif" font-style="italic">T</text>
<text x="263" y="380" font-size="9" font-family="Liberation Sans, sans-serif" >-ξ</text>
<text x="274.5" y="385.2" font-size="14" font-family="Liberation Sans, sans-serif" textLength="75.5" lengthAdjust="spacingAndGlyphs">contribution</text>
</svg></body></html>
